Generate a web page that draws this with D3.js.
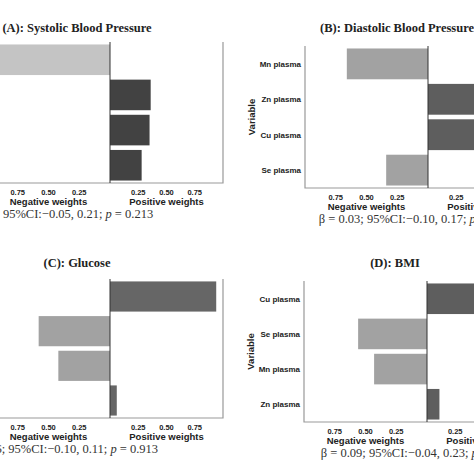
<!DOCTYPE html>
<html><head><meta charset="utf-8">
<script src="https://cdn.jsdelivr.net/npm/d3@7"></script>
<style>body{margin:0;background:#fff}svg{display:block}</style>
</head><body>
<svg id="c" width="474" height="474"></svg>
<script>
const titles = ["(A): Systolic Blood Pressure","(B): Diastolic Blood Pressure","(C): Glucose","(D): BMI"];
const varsA = ["Mn plasma","Cu plasma","Zn plasma","Se plasma"];
const valsA = [-1.0, 0.36, 0.35, 0.28];
const varsB = ["Mn plasma","Zn plasma","Cu plasma","Se plasma"];
const valsB = [-0.66, 0.55, 0.45, -0.34];
const varsC = ["Zn plasma","Mn plasma","Cu plasma","Se plasma"];
const valsC = [0.94, -0.58, -0.42, 0.06];
const varsD = ["Cu plasma","Se plasma","Mn plasma","Zn plasma"];
const valsD = [0.89, -0.56, -0.43, 0.11];
const stats = [
 ["0.08","−0.05, 0.21","0.213"],
 ["0.03","−0.10, 0.17","0.610"],
 ["0.006","−0.10, 0.11","0.913"],
 ["0.09","−0.04, 0.23","0.187"]];
const ticks = [0.25, 0.50, 0.75];

const svg = d3.select("#c");
const panels = [
 {zero:110, top:42, bottom:183, vars:varsA, vals:valsA, light:"#c4c4c4", dark:"#424242", cx:77, ty:32, sx:54},
 {zero:428, top:46, bottom:188, vars:varsB, vals:valsB, light:"#a2a2a2", dark:"#5e5e5e", cx:397, ty:32, sx:418},
 {zero:110, top:279, bottom:418, vars:varsC, vals:valsC, light:"#a2a2a2", dark:"#666666", cx:77, ty:267, sx:56},
 {zero:427, top:281, bottom:422, vars:varsD, vals:valsD, light:"#a2a2a2", dark:"#5e5e5e", cx:395, ty:267, sx:420}
];
panels.forEach((p,i)=>{
  const g = svg.append("g");
  const xn = d3.scaleLinear().domain([0,1]).range([p.zero, p.zero-123]);
  const xp = d3.scaleLinear().domain([0,1]).range([p.zero, p.zero+113]);
  const y = d3.scaleBand().domain(p.vars).range([p.top, p.bottom]).paddingInner(0.13).paddingOuter(0.07);
  g.selectAll("rect").data(p.vals).join("rect")
    .attr("x",(d)=> d<0 ? xn(-d) : p.zero)
    .attr("width",(d)=> d<0 ? p.zero-xn(-d) : xp(d)-p.zero)
    .attr("y",(d,j)=>y(p.vars[j])).attr("height",y.bandwidth())
    .attr("fill",(d)=> d<0 ? p.light : p.dark);
  const L = xn(1), R = xp(1);
  g.append("path").attr("d",`M${L},${p.top}V${p.bottom}H${R}V${p.top}`).attr("fill","none").attr("stroke","#999").attr("stroke-width",1.2);
  g.append("line").attr("x1",p.zero).attr("x2",p.zero).attr("y1",p.top).attr("y2",p.bottom).attr("stroke","#333").attr("stroke-width",1);
  g.selectAll(".yl").data(p.vars).join("text")
    .attr("x",L-4).attr("y",d=>y(d)+y.bandwidth()/2+3).attr("text-anchor","end")
    .attr("font-family","Liberation Sans, Arial").attr("font-weight","bold").attr("font-size",8).attr("fill","#222").text(d=>d);
  g.append("text").attr("transform",`translate(${L-50},${(p.top+p.bottom)/2}) rotate(-90)`).attr("text-anchor","middle")
    .attr("font-family","Liberation Sans, Arial").attr("font-weight","bold").attr("font-size",9.5).attr("fill","#222").text("Variable");
  ticks.forEach(t=>{
    [xn(t),xp(t)].forEach(x=>g.append("text").attr("x",x).attr("y",p.bottom+12).attr("text-anchor","middle")
      .attr("font-family","Liberation Sans, Arial").attr("font-weight","bold").attr("font-size",7.5).attr("fill","#222").text(t.toFixed(2)));
  });
  g.append("text").attr("x",xn(0.5)).attr("y",p.bottom+22).attr("text-anchor","middle")
    .attr("font-family","Liberation Sans, Arial").attr("font-weight","bold").attr("font-size",9.5).attr("fill","#222").text("Negative weights");
  g.append("text").attr("x",xp(0.5)).attr("y",p.bottom+22).attr("text-anchor","middle")
    .attr("font-family","Liberation Sans, Arial").attr("font-weight","bold").attr("font-size",9.5).attr("fill","#222").text("Positive weights");
  g.append("text").attr("x",p.cx).attr("y",p.ty).attr("text-anchor","middle")
    .attr("font-family","Liberation Serif, Times New Roman").attr("font-weight","bold").attr("font-size",12.5).attr("fill","#222").text(titles[i]);
  const s = stats[i];
  const st = g.append("text").attr("x",p.sx).attr("y",p.bottom+35).attr("text-anchor","middle")
    .attr("font-family","Liberation Serif, Times New Roman").attr("font-size",12.5).attr("fill","#333");
  st.append("tspan").text(`β = ${s[0]}; 95%CI:${s[1]}; `);
  st.append("tspan").attr("font-style","italic").text("p");
  st.append("tspan").text(` = ${s[2]}`);
});
</script>
</body></html>
